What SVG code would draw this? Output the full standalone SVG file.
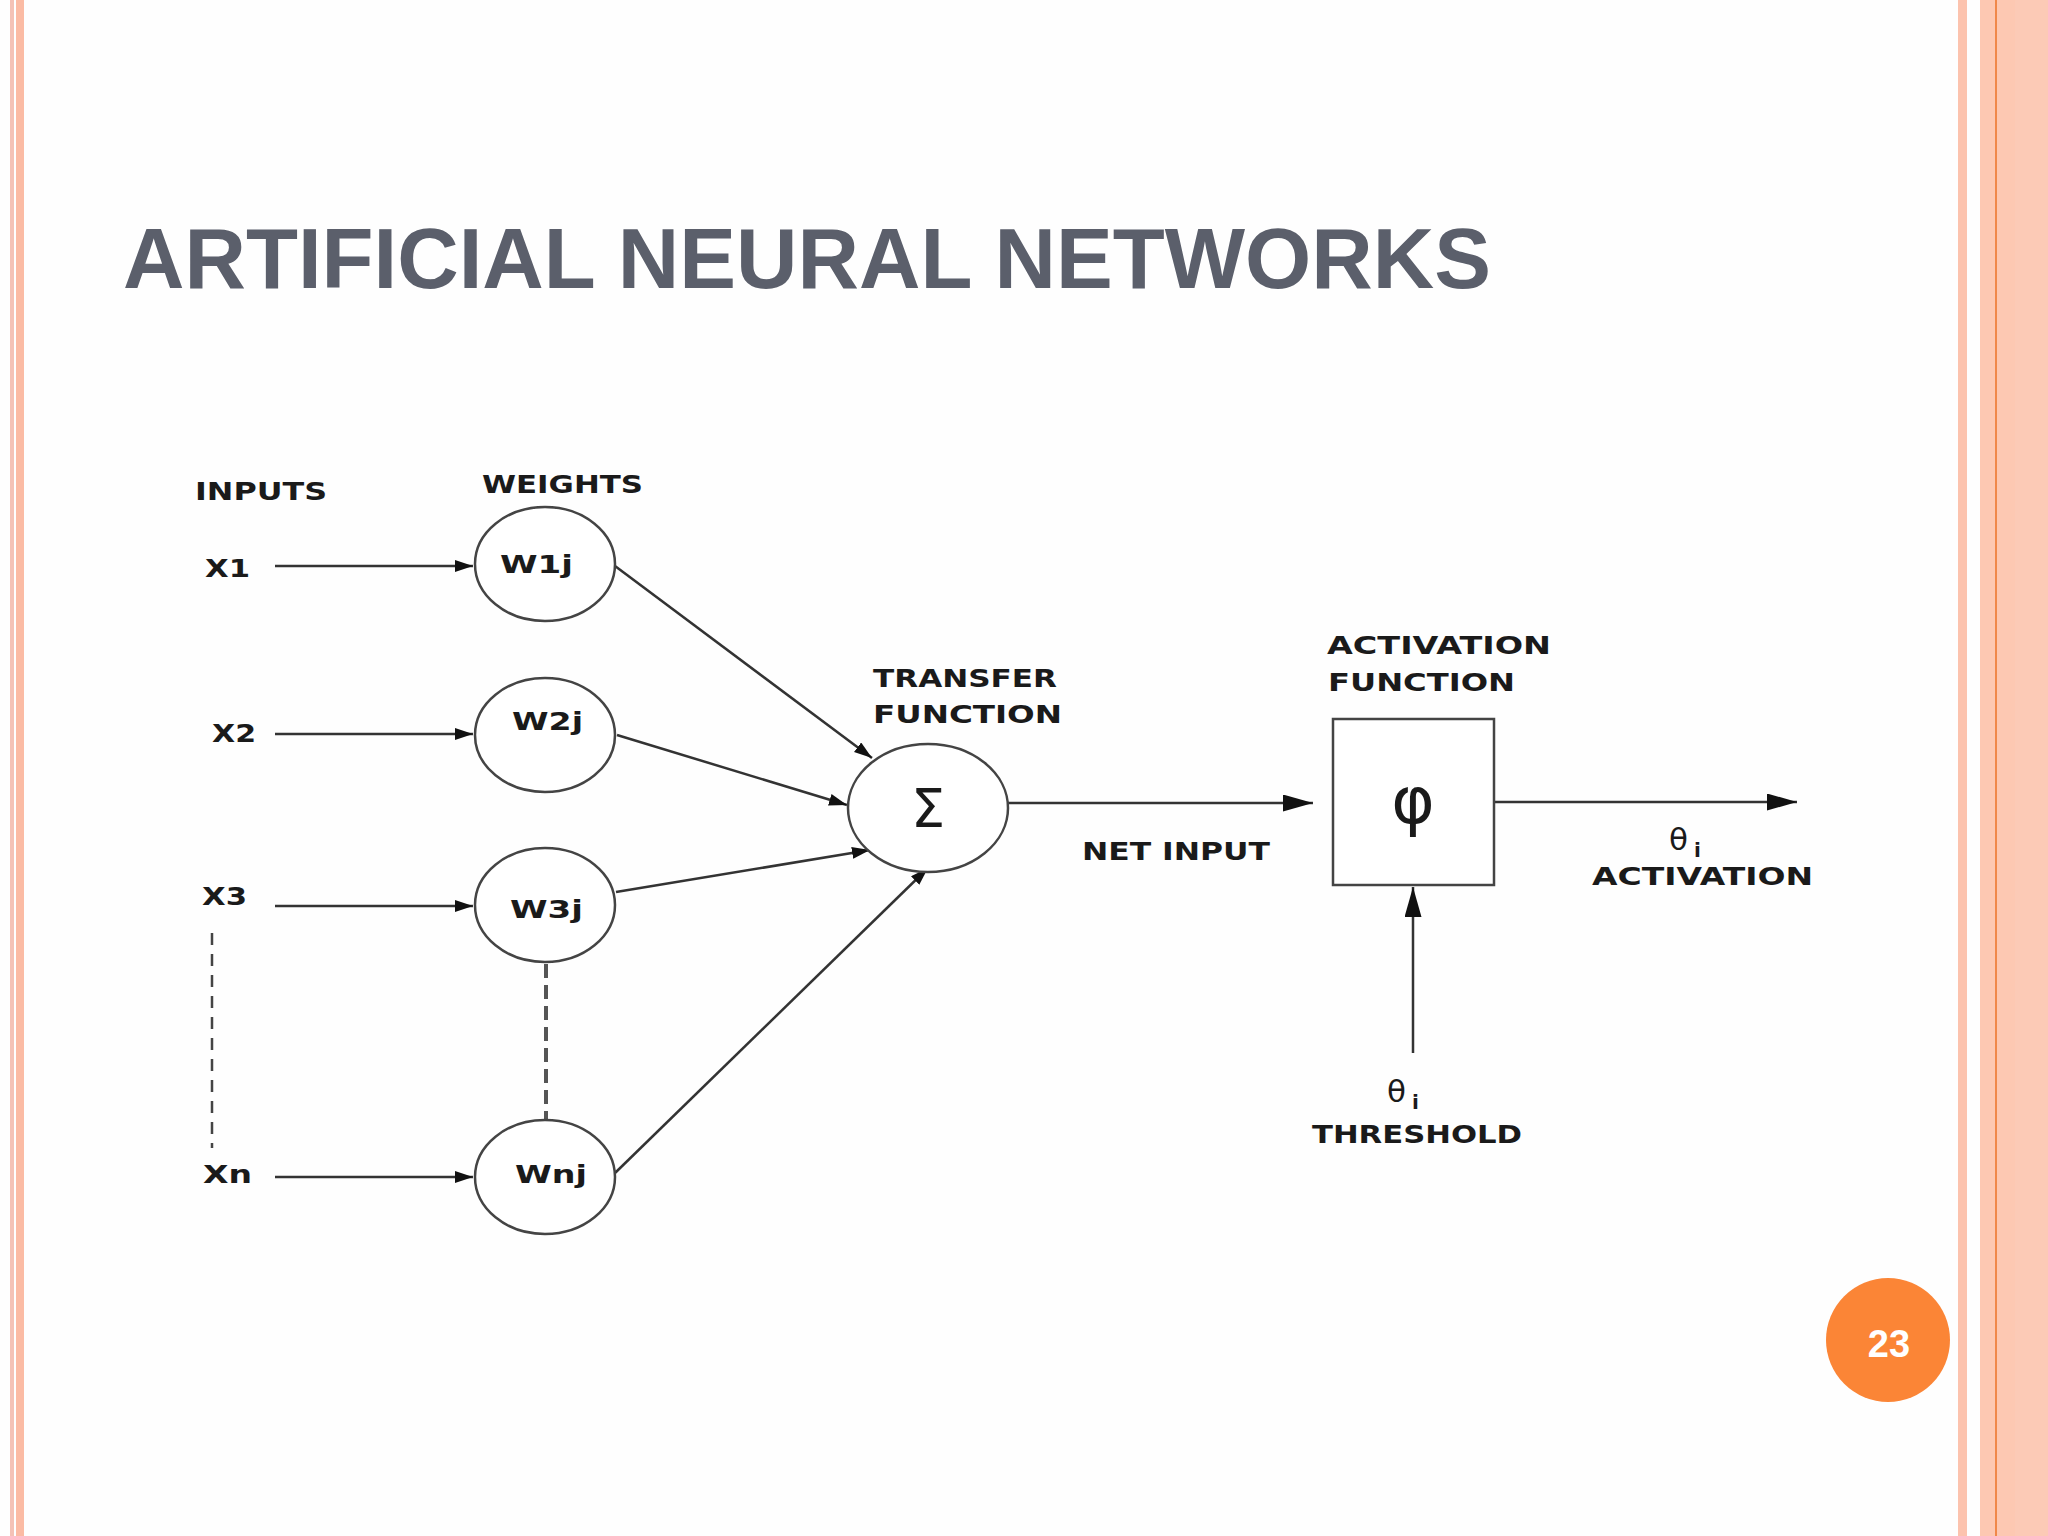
<svg xmlns="http://www.w3.org/2000/svg" width="2048" height="1536" viewBox="0 0 2048 1536">
<defs>
<style>
.lbl{font-family:"DejaVu Sans","Verdana",sans-serif;font-weight:bold;font-size:24px;fill:#1a1a1a}
.node{fill:#ffffff;stroke:#444444;stroke-width:2.5}
.con{stroke:#333333;stroke-width:2.5;fill:none}
.dash1{stroke:#444444;stroke-width:2.5;stroke-dasharray:12 9;fill:none}
.dash2{stroke:#555555;stroke-width:4;stroke-dasharray:14 7;fill:none}
.greek{font-family:"DejaVu Sans",sans-serif;fill:#1a1a1a}
</style>
<marker id="ah" markerUnits="userSpaceOnUse" markerWidth="20" markerHeight="14" refX="18" refY="6" orient="auto">
<path d="M0,0 L18,6 L0,12 Z" fill="#111111"/>
</marker>
<marker id="ahL" markerUnits="userSpaceOnUse" markerWidth="32" markerHeight="20" refX="30" refY="8.5" orient="auto">
<path d="M0,0 L30,8.5 L0,17 Z" fill="#111111"/>
</marker>
</defs>
<rect width="2048" height="1536" fill="#fefefe"/>
<g id="borders">
<rect x="10" y="0" width="4" height="1536" fill="#f4c2b6"/>
<rect x="16" y="0" width="8" height="1536" fill="#fbbba4"/>
<rect x="1958" y="0" width="9" height="1536" fill="#fcc3ae"/>
<rect x="1980" y="0" width="68" height="1536" fill="#fdc8b2"/>
<rect x="1995" y="0" width="2" height="1536" fill="#f0884a"/>
<rect x="2015" y="0" width="33" height="1536" fill="#fccab6"/>
</g>
<text x="123" y="288" font-family="Liberation Sans, Arial, sans-serif" font-weight="bold" font-size="85" fill="#5b5f6b" textLength="1368" lengthAdjust="spacingAndGlyphs">ARTIFICIAL NEURAL NETWORKS</text>

<g id="labels">
<text class="lbl" x="195" y="500" textLength="132" lengthAdjust="spacingAndGlyphs">INPUTS</text>
<text class="lbl" x="482" y="493" textLength="161" lengthAdjust="spacingAndGlyphs">WEIGHTS</text>
<text class="lbl" x="205" y="577" textLength="45" lengthAdjust="spacingAndGlyphs">X1</text>
<text class="lbl" x="212" y="742" textLength="44" lengthAdjust="spacingAndGlyphs">X2</text>
<text class="lbl" x="202" y="905" textLength="45" lengthAdjust="spacingAndGlyphs">X3</text>
<text class="lbl" x="203" y="1183" textLength="49" lengthAdjust="spacingAndGlyphs">Xn</text>
<text class="lbl" x="873" y="687" textLength="184" lengthAdjust="spacingAndGlyphs">TRANSFER</text>
<text class="lbl" x="873" y="723" textLength="189" lengthAdjust="spacingAndGlyphs">FUNCTION</text>
<text class="lbl" x="1327" y="654" textLength="224" lengthAdjust="spacingAndGlyphs">ACTIVATION</text>
<text class="lbl" x="1328" y="691" textLength="187" lengthAdjust="spacingAndGlyphs">FUNCTION</text>
<text class="lbl" x="1082" y="860" textLength="188" lengthAdjust="spacingAndGlyphs">NET INPUT</text>
<text class="lbl" x="1592" y="885" textLength="221" lengthAdjust="spacingAndGlyphs">ACTIVATION</text>
<text class="lbl" x="1312" y="1143" textLength="210" lengthAdjust="spacingAndGlyphs">THRESHOLD</text>
<text class="greek" x="1669" y="850" font-size="31">θ<tspan font-size="20" font-weight="bold" dx="6" dy="7">i</tspan></text>
<text class="greek" x="1387" y="1102" font-size="31">θ<tspan font-size="20" font-weight="bold" dx="6" dy="7">i</tspan></text>
</g>

<g id="connectors">
<line class="con" x1="275" y1="566" x2="473" y2="566" marker-end="url(#ah)"/>
<line class="con" x1="275" y1="734" x2="473" y2="734" marker-end="url(#ah)"/>
<line class="con" x1="275" y1="906" x2="473" y2="906" marker-end="url(#ah)"/>
<line class="con" x1="275" y1="1177" x2="473" y2="1177" marker-end="url(#ah)"/>
<line class="con" x1="615" y1="566" x2="872" y2="758" marker-end="url(#ah)"/>
<line class="con" x1="617" y1="735" x2="847" y2="805" marker-end="url(#ah)"/>
<line class="con" x1="616" y1="892" x2="870" y2="850" marker-end="url(#ah)"/>
<line class="con" x1="615" y1="1173" x2="928" y2="868" marker-end="url(#ah)"/>
<line class="con" x1="1008" y1="803" x2="1313" y2="803" marker-end="url(#ahL)"/>
<line class="con" x1="1494" y1="802" x2="1797" y2="802" marker-end="url(#ahL)"/>
<line class="con" x1="1413" y1="1053" x2="1413" y2="887" marker-end="url(#ahL)"/>
<line class="dash1" x1="212" y1="933" x2="212" y2="1148"/>
<line class="dash2" x1="546" y1="964" x2="546" y2="1120"/>
</g>

<g id="w1j"><ellipse class="node" cx="545" cy="564" rx="70" ry="57"/><text class="lbl" x="500" y="573" textLength="73" lengthAdjust="spacingAndGlyphs">W1j</text></g>
<g id="w2j"><ellipse class="node" cx="545" cy="735" rx="70" ry="57"/><text class="lbl" x="512" y="730" textLength="71" lengthAdjust="spacingAndGlyphs">W2j</text></g>
<g id="w3j"><ellipse class="node" cx="545" cy="905" rx="70" ry="57"/><text class="lbl" x="510" y="918" textLength="73" lengthAdjust="spacingAndGlyphs">W3j</text></g>
<g id="wnj"><ellipse class="node" cx="545" cy="1177" rx="70" ry="57"/><text class="lbl" x="515" y="1183" textLength="72" lengthAdjust="spacingAndGlyphs">Wnj</text></g>
<g id="sum"><ellipse class="node" cx="928" cy="808" rx="80" ry="64"/><text class="greek" x="928" y="827" font-size="54" text-anchor="middle">Σ</text></g>
<g id="activation"><rect class="node" x="1333" y="719" width="161" height="166"/><text class="greek" x="1413" y="823" font-size="66" text-anchor="middle">φ</text></g>

<g id="page">
<circle cx="1888" cy="1340" r="62" fill="#fb8536"/>
<text x="1889" y="1357" font-family="Liberation Sans, Arial, sans-serif" font-weight="bold" font-size="38" fill="#ffffff" text-anchor="middle">23</text>
</g>
</svg>
